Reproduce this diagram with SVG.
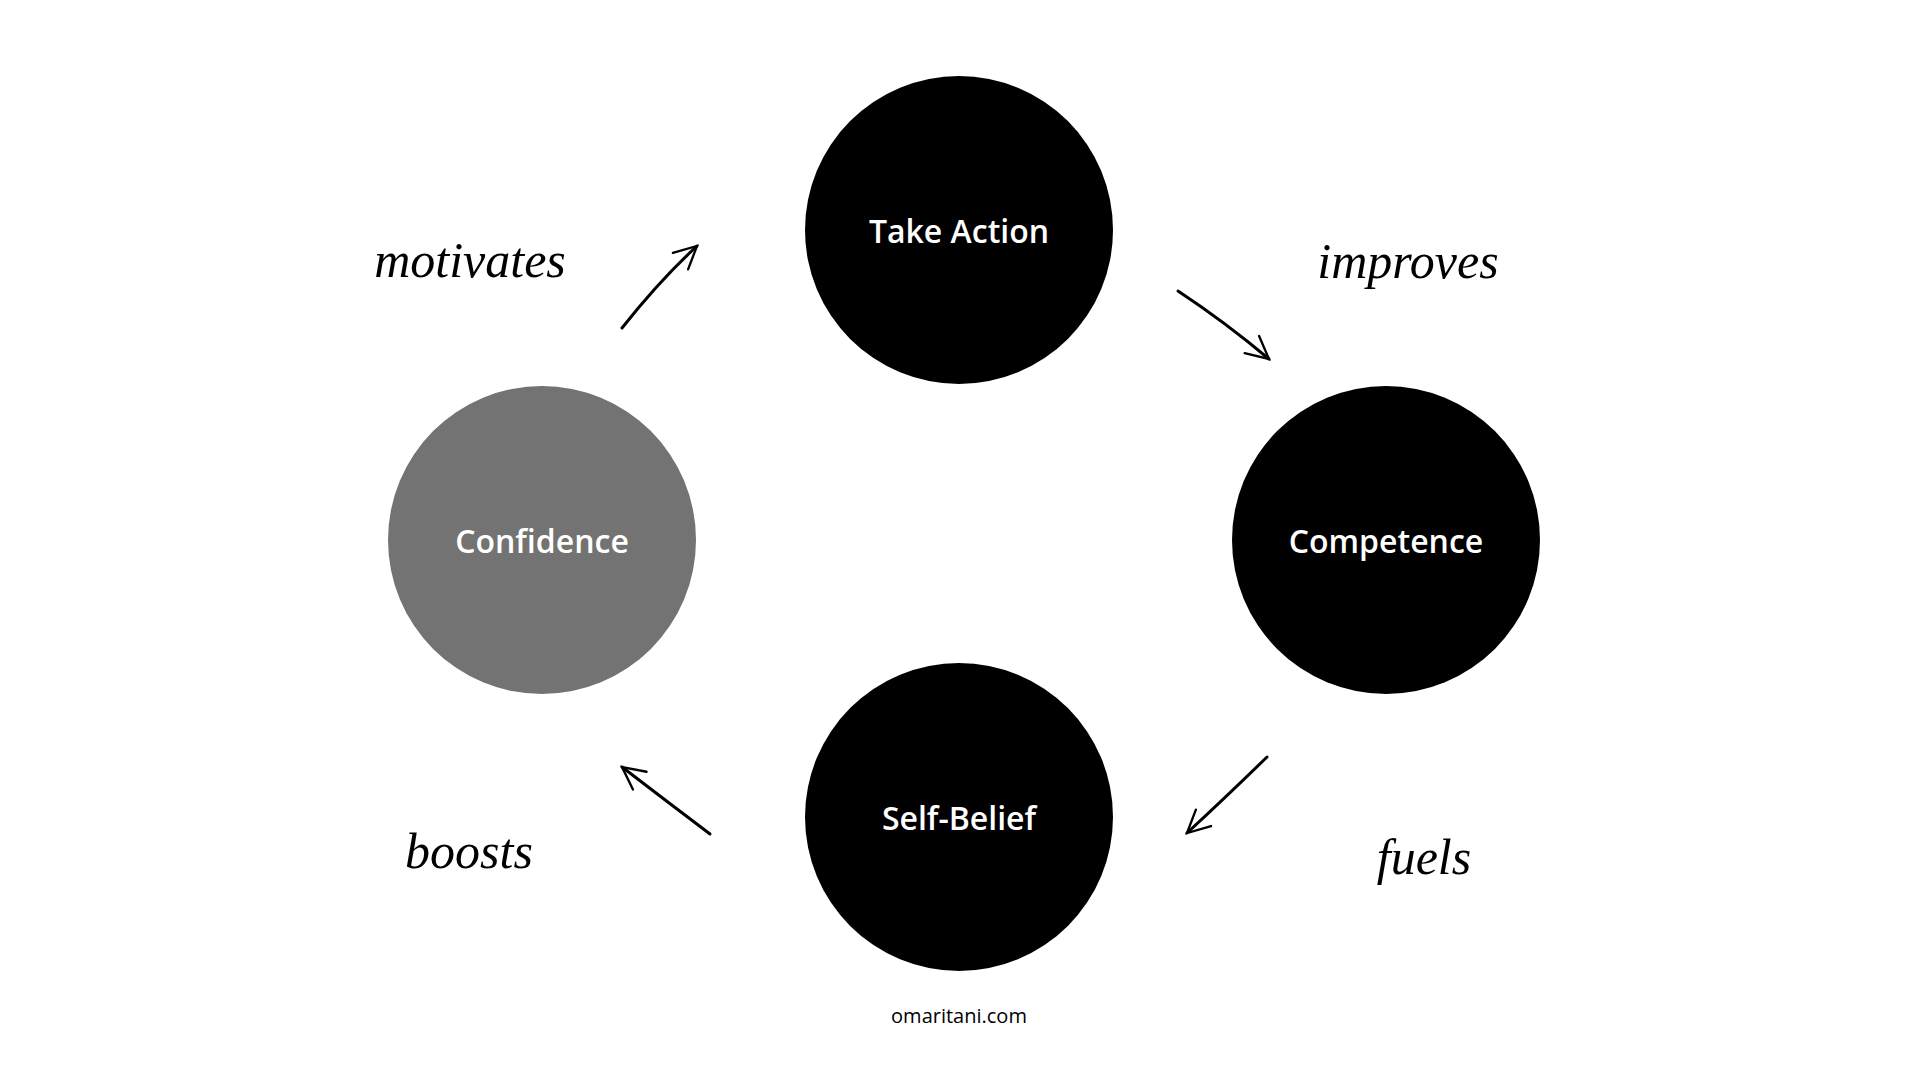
<svg xmlns="http://www.w3.org/2000/svg" width="1920" height="1080" viewBox="0 0 1920 1080">
<style>
.n{font-family:"Open Sans","Noto Sans",sans-serif;font-size:32px;fill:#fff;text-anchor:middle;dominant-baseline:central;font-weight:600}
.l{font-family:"Liberation Serif",serif;font-style:italic;font-size:50px;fill:#000;text-anchor:middle;dominant-baseline:central}
.c{fill:none;stroke:#000;stroke-width:3;stroke-linecap:round;marker-end:url(#a)}
</style>
<defs><marker id="a" viewBox="0 0 20 20" refX="18" refY="10" markerWidth="10" markerHeight="10" markerUnits="userSpaceOnUse" orient="auto"><path d="M2 2 L18 10 L2 18" fill="none" stroke="#000" stroke-width="3" stroke-linecap="round"/></marker>
<marker id="b" viewBox="0 0 30 30" refX="27" refY="15" markerWidth="28" markerHeight="28" markerUnits="userSpaceOnUse" orient="auto"><path d="M3 3 L27 15 L3 27" fill="none" stroke="#000" stroke-width="2.5" stroke-linecap="round"/></marker></defs>
<rect width="1920" height="1080" fill="#fff"/>
<g id="take-action"><circle cx="959" cy="230" r="154"/><text class="n" x="959" y="230">Take Action</text></g>
<g id="competence"><circle cx="1386" cy="540" r="154"/><text class="n" x="1386" y="540">Competence</text></g>
<g id="self-belief"><circle cx="959" cy="817" r="154"/><text class="n" x="959" y="817">Self-Belief</text></g>
<g id="confidence"><circle cx="542" cy="540" r="154" fill="#737373"/><text class="n" x="542" y="540">Confidence</text></g>
<g id="connectors">
<path class="c" style="marker-end:url(#b)" d="M622 328 Q660 280 697 246"/>
<path class="c" style="marker-end:url(#b)" d="M1178 291 Q1225 322 1269 359"/>
<path class="c" style="marker-end:url(#b)" d="M1267 757 Q1225 798 1187 833"/>
<path class="c" style="marker-end:url(#b)" d="M710 834 Q665 800 622 767"/>
</g>
<g id="labels">
<text class="l" x="470" y="260">motivates</text>
<text class="l" x="1408" y="261">improves</text>
<text class="l" x="469" y="851">boosts</text>
<text class="l" x="1424" y="857">fuels</text>
</g>
<text x="959" y="1015" font-family="Open Sans,sans-serif" font-size="20" text-anchor="middle" dominant-baseline="central">omaritani.com</text>
</svg>
